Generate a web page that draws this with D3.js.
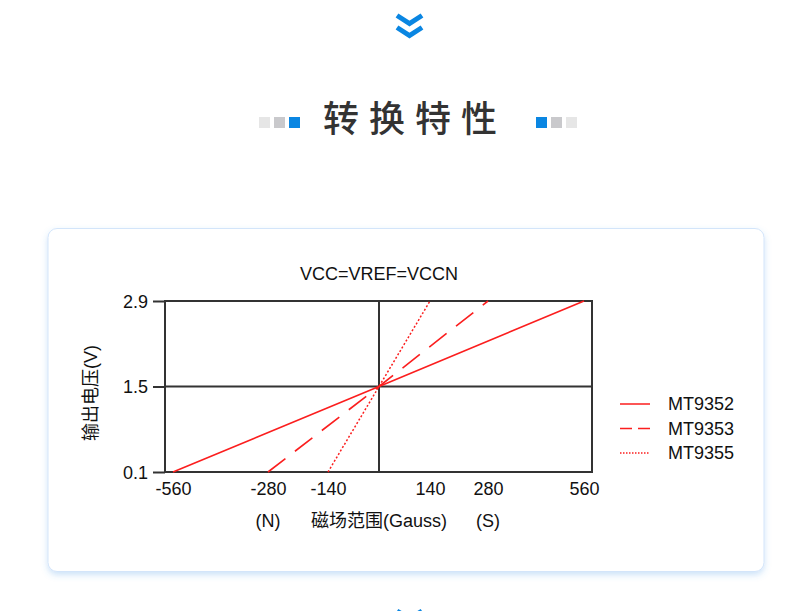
<!DOCTYPE html>
<html><head><meta charset="utf-8">
<script src="https://cdn.jsdelivr.net/npm/d3@7"></script>
<style>
html,body{margin:0;padding:0;background:#fff;}
svg{display:block;}
</style></head>
<body>
<svg id="c" width="800" height="611"></svg>
<script>
// ---- data ----
const pageTitle = "转换特性";
const chartTitle = "VCC=VREF=VCCN";
const yAxisTitle = "输出电压(V)";
const xAxisTitles = ["(N)", "磁场范围(Gauss)", "(S)"];
const xAxisTitleAt = [-280, 0, 280];
const xTickValues = [-560, -280, -140, 140, 280, 560];
const yTickValues = [0.1, 1.5, 2.9];
const seriesNames = ["MT9352", "MT9353", "MT9355"];
const seriesGauss = [[-560, 0, 560], [-280, 0, 280], [-140, 0, 140]];
const seriesVolt = [[0.1, 1.5, 2.9], [0.1, 1.5, 2.9], [0.1, 1.5, 2.9]];

// ---- layout ----
const svg = d3.select("#c");
const plot = {left: 165, top: 301, right: 592, bottom: 472};
const blue = "#0a86e2";
const red = "#fb1e1e";
const ink = "#333";
const latin = "'Liberation Sans', Arial, sans-serif";
const cjk = "'Liberation Sans', 'Noto Sans CJK SC', sans-serif";
const fs = 18;

const defs = svg.append("defs");
const f = defs.append("filter").attr("id","sh").attr("x","-10%").attr("y","-10%").attr("width","120%").attr("height","130%");
f.append("feDropShadow").attr("dx",0).attr("dy",3).attr("stdDeviation",3).attr("flood-color","#4a9be8").attr("flood-opacity",0.28);

// chevrons
function chevron(y0){
  [0, 12].forEach(o=>{
    svg.append("polyline")
      .attr("points", `397,${y0+o} 409.5,${y0+o+8} 422,${y0+o}`)
      .attr("fill","none").attr("stroke",blue).attr("stroke-width",5).attr("stroke-linejoin","miter");
  });
}
chevron(15.5);
chevron(611);

// page title
svg.append("text").attr("x", 415).attr("y", 132).attr("text-anchor","middle")
  .attr("font-family","'Noto Sans CJK SC', sans-serif").attr("font-size",36).attr("font-weight",500)
  .attr("letter-spacing", 10).attr("fill", ink).text(pageTitle);
const sqColorsL = ["#e6e6e6", "#c9c9cc", blue];
const sqColorsR = [blue, "#c9c9cc", "#e6e6e6"];
sqColorsL.forEach((c,i)=> svg.append("rect").attr("x",259+i*15).attr("y",117).attr("width",11).attr("height",11).attr("fill",c));
sqColorsR.forEach((c,i)=> svg.append("rect").attr("x",536+i*15).attr("y",117).attr("width",11).attr("height",11).attr("fill",c));

// card
svg.append("rect").attr("x",48).attr("y",228.5).attr("width",716).attr("height",343).attr("rx",9)
  .attr("fill","#fff").attr("stroke","#d3e5fa").attr("stroke-width",1).attr("filter","url(#sh)");

// scales
const x = d3.scaleLinear()
  .domain([-560, -280, -140, 0, 140, 280, 560])
  .range([173, 268, 328, 379, 430, 488, 584]);
const y = d3.scaleLinear().domain([0.1, 2.9]).range([plot.bottom, plot.top]);

// chart title
svg.append("text").attr("x", 379).attr("y", 280).attr("text-anchor","middle")
  .attr("font-family", latin).attr("font-size",fs).attr("fill","#111").text(chartTitle);

// y axis
const ya = svg.append("g").attr("transform",`translate(${plot.left},0)`)
  .call(d3.axisLeft(y).tickValues(yTickValues).tickSize(12).tickPadding(5).tickFormat(d3.format(".1f")));
ya.select(".domain").remove();
ya.selectAll("line").attr("stroke", ink).attr("stroke-width",2);
ya.selectAll("text").attr("font-family", latin).attr("font-size",fs).attr("fill","#111").attr("dy","0.36em");

// x axis
const xa = svg.append("g").attr("transform",`translate(0,${plot.bottom})`)
  .call(d3.axisBottom(x).tickValues(xTickValues).tickSize(0).tickPadding(10).tickFormat(d => String(d)));
xa.select(".domain").remove();
xa.selectAll("text").attr("font-family", latin).attr("font-size",fs).attr("fill","#111");

// frame and center lines
svg.append("rect").attr("x",plot.left).attr("y",plot.top).attr("width",plot.right-plot.left).attr("height",plot.bottom-plot.top)
  .attr("fill","none").attr("stroke",ink).attr("stroke-width",2);
svg.append("line").attr("x1",plot.left).attr("x2",plot.right).attr("y1",y(1.5)).attr("y2",y(1.5)).attr("stroke",ink).attr("stroke-width",2);
svg.append("line").attr("x1",x(0)).attr("x2",x(0)).attr("y1",plot.top).attr("y2",plot.bottom).attr("stroke",ink).attr("stroke-width",2);

// series
const dashes = [null, "22,12", "2,2"];
const widths = [1.6, 1.6, 1.5];
const line = d3.line().x(d=>x(d[0])).y(d=>y(d[1]));
seriesNames.forEach((n,i)=>{
  const pts = seriesGauss[i].map((g,j)=>[g, seriesVolt[i][j]]);
  svg.append("path").attr("d", line(pts)).attr("fill","none").attr("stroke",red)
    .attr("stroke-width",widths[i]).attr("stroke-dasharray",dashes[i]);
});

// axis titles
svg.append("text").attr("transform","translate(97,393) rotate(-90)").attr("text-anchor","middle")
  .attr("font-family", cjk).attr("font-size",fs).attr("fill","#111").text(yAxisTitle);
xAxisTitles.forEach((t,i)=>{
  svg.append("text").attr("x", x(xAxisTitleAt[i])).attr("y", 527).attr("text-anchor","middle")
    .attr("font-family", cjk).attr("font-size",fs).attr("fill","#111").text(t);
});

// legend
const legDash = [null, "12,6", "1.5,1.5"];
seriesNames.forEach((n,i)=>{
  const ly = 404 + i*24.5;
  svg.append("line").attr("x1",620).attr("x2",650).attr("y1",ly).attr("y2",ly)
    .attr("stroke",red).attr("stroke-width",1.5).attr("stroke-dasharray",legDash[i]);
  svg.append("text").attr("x",668).attr("y",ly).attr("dy","0.36em")
    .attr("font-family", latin).attr("font-size",fs).attr("fill","#111").text(n);
});
</script>
</body></html>
